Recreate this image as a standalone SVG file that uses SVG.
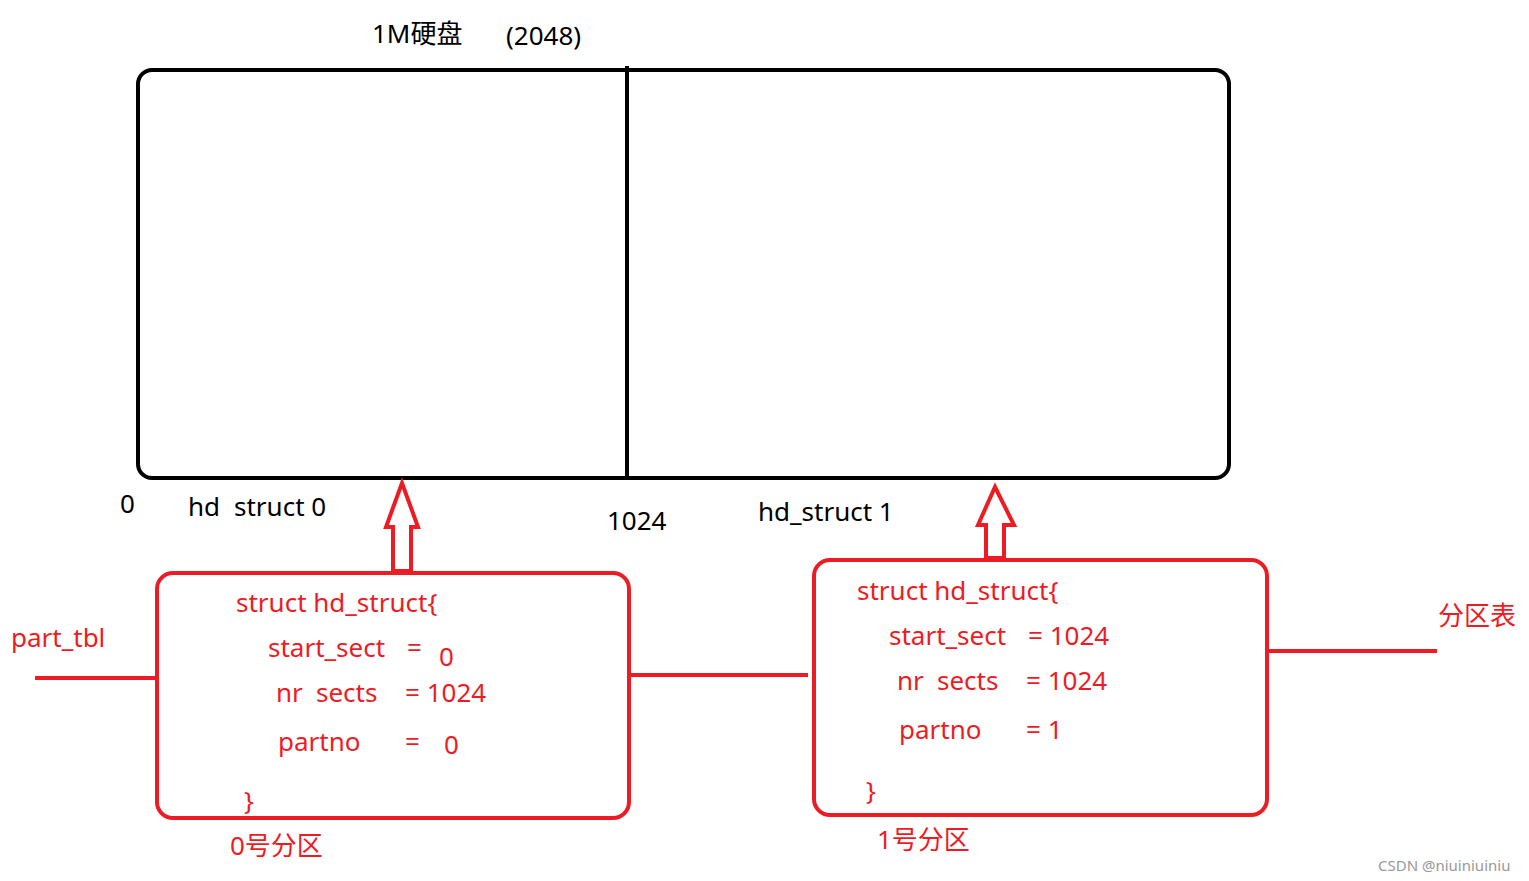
<svg xmlns="http://www.w3.org/2000/svg" width="1529" height="881" viewBox="0 0 1529 881">
<style>
text{font-family:"Noto Sans","Noto Sans CJK SC",sans-serif;font-size:26px}
.k{fill:#000}
.r{fill:#ed1c24}
.rb{fill:none;stroke:#ed1c24;stroke-width:4}
</style>
<rect width="1529" height="881" fill="#fff"/>
<g id="disk">
<rect x="138" y="70" width="1091" height="408" rx="14" fill="none" stroke="#000" stroke-width="4"/>
<line x1="627" y1="66" x2="627" y2="480" stroke="#000" stroke-width="4"/>
<text class="k" x="372" y="43">1M硬盘</text>
<text class="k" x="506" y="45">(2048)</text>
<text class="k" x="120" y="513">0</text>
<text class="k" x="188" y="516">hd</text>
<text class="k" x="234" y="516">struct 0</text>
<text class="k" x="607" y="530">1024</text>
<text class="k" x="758" y="521">hd_struct 1</text>
</g>
<g id="part0">
<rect class="rb" x="157" y="573" width="472" height="245" rx="16"/>
<text class="r" x="236" y="612">struct hd_struct{</text>
<text class="r" x="268" y="657">start_sect</text>
<text class="r" x="407" y="657">=</text>
<text class="r" x="439" y="666">0</text>
<text class="r" x="276" y="702">nr</text>
<text class="r" x="316" y="702">sects</text>
<text class="r" x="405" y="702">= 1024</text>
<text class="r" x="278" y="751">partno</text>
<text class="r" x="405" y="751">=</text>
<text class="r" x="444" y="754">0</text>
<text class="r" x="244" y="810">}</text>
<text class="r" x="230" y="855">0号分区</text>
</g>
<g id="part1">
<rect class="rb" x="814" y="560" width="453" height="255" rx="16"/>
<text class="r" x="857" y="600">struct hd_struct{</text>
<text class="r" x="889" y="645">start_sect</text>
<text class="r" x="1028" y="645">= 1024</text>
<text class="r" x="897" y="690">nr</text>
<text class="r" x="937" y="690">sects</text>
<text class="r" x="1026" y="690">= 1024</text>
<text class="r" x="899" y="739">partno</text>
<text class="r" x="1026" y="739">= 1</text>
<text class="r" x="866" y="800">}</text>
<text class="r" x="877" y="849">1号分区</text>
</g>
<g id="labels">
<text class="r" x="11" y="647">part_tbl</text>
<text class="r" x="1438" y="625">分区表</text>
<text x="1378" y="871" style="font-size:15px;fill:#999">CSDN @niuiniuiniu</text>
</g>
<g id="connectors">
<line class="rb" x1="35" y1="678" x2="157" y2="678"/>
<line class="rb" x1="629" y1="675" x2="808" y2="675"/>
<line class="rb" x1="1267" y1="651" x2="1437" y2="651"/>
<polygon class="rb" points="393,571 393,527 386,527 402,483 418,527 411,527 411,571"/>
<polygon class="rb" points="986,558 986,525 978,525 995,487 1014,525 1004,525 1004,558"/>
</g>
</svg>
